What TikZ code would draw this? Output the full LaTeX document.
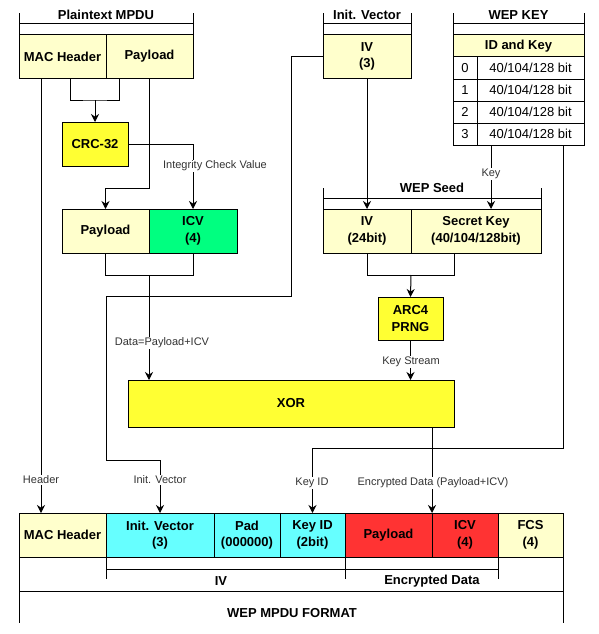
\documentclass[tikz,border=0pt]{standalone}
\usepackage{fontspec}
\setmainfont{Liberation Sans}
\usepackage{xcolor}
\usetikzlibrary{arrows.meta,positioning,calc}
\definecolor{paleyel}{RGB}{255,255,204}
\definecolor{brightyel}{RGB}{255,255,51}
\definecolor{icvgreen}{RGB}{0,255,128}
\definecolor{ivcyan}{RGB}{102,255,255}
\definecolor{encred}{RGB}{255,51,51}

\begin{document}
\begin{tikzpicture}[
    x=1pt, y=1pt, line width=1pt,
    cell/.style={rectangle, draw, fill=paleyel, minimum width=87pt, minimum height=44pt, inner sep=1pt, outer sep=0pt, align=center, font=\bfseries\fontsize{13}{16.5}\selectfont},
    procbox/.style={cell, fill=brightyel},
    grouptitle/.style={inner sep=0pt, font=\bfseries\fontsize{13}{16.5}\selectfont},
    keycell/.style={rectangle, draw, fill=white, minimum height=22pt, inner sep=0pt, outer sep=0pt, font=\fontsize{13}{15}\selectfont},
    flowlabel/.style={fill=white, inner sep=1pt, text=black!80, font=\fontsize{11}{13}\selectfont},
    flow/.style={-{Stealth[length=8pt,width=8pt]}}
]
    \useasboundingbox (0,0) rectangle (599,-634);

    % plaintext MPDU
    \node[cell, minimum height=43pt] (plainmac) at (62.5,-56.5) {MAC Header};
    \node[cell, minimum height=43pt, right=0pt of plainmac] (plainpay) {Payload};
    \node[grouptitle] (plaintitle) at (106,-15) {Plaintext MPDU};
    \draw (plainmac.north west) -- ++(0,22) (plainpay.north east) -- ++(0,22)
          ([yshift=11pt]plainmac.north west) -- ([yshift=11pt]plainpay.north east);

    \node[procbox, minimum width=66pt] (crc) at (95,-144) {CRC-32};
    \node[cell] (datapay) at (105.5,-231) {Payload};
    \node[cell, fill=icvgreen, minimum width=88pt, right=0pt of datapay] (dataicv) {ICV\\(4)};

    % init. vector
    \node[cell, minimum width=88pt, minimum height=43pt] (ivin) at (367,-56.5) {IV\\(3)};
    \node[grouptitle] (ivtitle) at (367,-15) {Init. Vector};
    \draw (ivin.north west) -- ++(0,22) (ivin.north east) -- ++(0,22)
          ([yshift=11pt]ivin.north west) -- ([yshift=11pt]ivin.north east);

    % WEP key table
    \node[keycell, fill=paleyel, minimum width=131pt, font=\bfseries\fontsize{13}{15}\selectfont] (keyhead) at (518.5,-46) {ID and Key};
    \node[grouptitle] (keytitle) at (518.5,-15) {WEP KEY};
    \draw (keyhead.north west) -- ++(0,22) (keyhead.north east) -- ++(0,22)
          ([yshift=11pt]keyhead.north west) -- ([yshift=11pt]keyhead.north east);
    \foreach \i in {0,...,3} {
        \node[keycell, minimum width=24pt] (keynum\i) at (465,{-68-22*\i}) {\i};
        \node[keycell, minimum width=107pt, right=0pt of keynum\i] (keyval\i) {40/104/128 bit};
    }

    % WEP seed
    \node[cell, minimum width=88pt] (seediv) at (367,-231) {IV\\(24bit)};
    \node[cell, minimum width=130pt, right=0pt of seediv] (seedkey) {Secret Key\\(40/104/128bit)};
    \node[grouptitle] (seedtitle) at (432,-188) {WEP Seed};
    \draw (seediv.north west) -- ++(0,21) (seedkey.north east) -- ++(0,21)
          ([yshift=11pt]seediv.north west) -- ([yshift=11pt]seedkey.north east);

    \node[procbox, minimum width=65pt, minimum height=43pt] (prng) at (410.5,-318.5) {ARC4\\PRNG};
    \node[procbox, minimum width=326pt, minimum height=47pt] (xor) at (291,-403.5) {XOR};

    % WEP MPDU format
    \node[cell] (wepmac) at (62.5,-535) {MAC Header};
    \node[cell, fill=ivcyan, minimum width=108pt, right=0pt of wepmac] (wepiv) {Init. Vector\\(3)};
    \node[cell, fill=ivcyan, minimum width=66pt, right=0pt of wepiv] (weppad) {Pad\\(000000)};
    \node[cell, fill=ivcyan, minimum width=65pt, right=0pt of weppad] (wepkid) {Key ID\\(2bit)};
    \node[cell, fill=encred] (weppay) [right=0pt of wepkid] {Payload};
    \node[cell, fill=encred, minimum width=66pt, right=0pt of weppay] (wepicv) {ICV\\(4)};
    \node[cell, minimum width=65pt, right=0pt of wepicv] (wepfcs) {FCS\\(4)};

    \draw (wepmac.south west) -- ++(0,-66) (wepfcs.south east) -- ++(0,-66)
          ([yshift=-34pt]wepmac.south west) -- ([yshift=-34pt]wepfcs.south east);
    \draw (wepiv.south west) -- ++(0,-22) (wepkid.south east) -- ++(0,-22) (wepicv.south east) -- ++(0,-22)
          ([yshift=-12pt]wepiv.south west) -- ([yshift=-12pt]wepicv.south east);
    \node[grouptitle] (ivpart) at (221,-581) {IV};
    \node[grouptitle] (encpart) at (432,-581) {Encrypted Data};
    \node[grouptitle] (weptitle) at (292,-613) {WEP MPDU FORMAT};

    % connectors
    \draw ([xshift=7.5pt]plainmac.south) |- ([yshift=22pt]crc.north) -| ([xshift=-30.5pt]plainpay.south);
    \draw[flow] ([yshift=22pt]crc.north) -- (crc.north);
    \draw[flow] (plainpay.south) -- ++(0,-110) -| (datapay.north);
    \draw[flow] (crc.east) -| (dataicv.north);
    \draw (datapay.south) -- ++(0,-22) -| (dataicv.south);
    \draw[flow] ([yshift=-22pt]datapay.south east) -- (datapay.south east |- xor.north);
    \draw[flow] (ivin.west) -- ++(-32,0) -- ++(0,-240) -| ([yshift=53pt]wepiv.north west) -| (wepiv.north);
    \draw[flow] (ivin.south) -- (seediv.north);
    \draw[flow] ([xshift=14pt]keyval3.south west) -- ([xshift=14pt]keyval3.south west |- seedkey.north);
    \draw[flow] ([xshift=-21pt]keyval3.south east) |- ([yshift=65pt]wepkid.north) -- (wepkid.north);
    \draw (seediv.south) -- ++(0,-22) -| ([xshift=-22pt]seedkey.south);
    \draw[flow] ([yshift=-22pt]seediv.south east) -- (prng.north);
    \draw[flow] (prng.south) -- (prng.south |- xor.north);
    \draw[flow] (xor.south -| wepicv.north west) -- (wepicv.north west);
    \draw[flow] ([xshift=-21.5pt]plainmac.south) -- ([xshift=-21.5pt]wepmac.north);

    % connector labels
    \node[flowlabel] (icvlabel) at (215,-166) {Integrity Check Value};
    \node[flowlabel] (datalabel) at (162,-343) {Data=Payload+ICV};
    \node[flowlabel] (keylabel) at (491,-174) {Key};
    \node[flowlabel] (streamlabel) at (411,-362) {Key Stream};
    \node[flowlabel] (hdrlabel) at (41,-480) {Header};
    \node[flowlabel] (ivlabel) at (160,-480) {Init. Vector};
    \node[flowlabel] (kidlabel) at (312,-483) {Key ID};
    \node[flowlabel] (enclabel) at (433,-483) {Encrypted Data (Payload+ICV)};
\end{tikzpicture}
\end{document}
